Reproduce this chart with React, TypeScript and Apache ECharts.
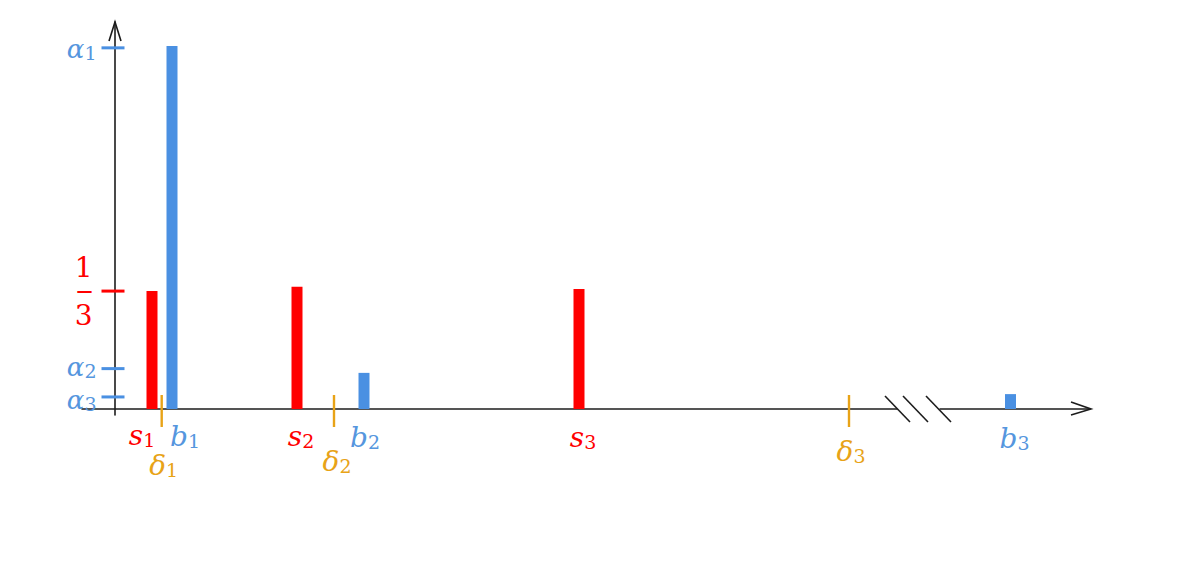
import React, { useEffect, useRef } from 'react';
import * as echarts from 'echarts';

// ---- data ----
const barNames = ['s1', 'b1', 's2', 'b2', 's3', 'b3'];
const barPositions = [3.7, 5.7, 18.2, 24.9, 46.4, 89.55];
const barHeights = [0.333, 1.025, 0.345, 0.102, 0.339, 0.042];
const deltaNames = ['δ1', 'δ2', 'δ3'];
const deltaPositions = [4.67, 21.9, 73.4];
const yTickNames = ['α1', '1/3', 'α2', 'α3'];
const yTickValues = [1.02, 0.333, 0.114, 0.034];
const xRange = [-3.3, 97.5];
const yRange = [-0.017, 1.093];
const breakPosition = 80.3;

// ---- style ----
const RED = '#ff0000';
const BLUE = '#4a90e2';
const BLUE_TEXT = '#5596de';
const ORANGE = '#e8a317';
const AXIS = '#1c1c1c';
const FONT = '"DejaVu Serif", "Liberation Serif", serif';

const labelOffsets: Record<string, [number, number]> = {
  s1: [-10, 27],
  b1: [13, 28],
  s2: [4, 28],
  b2: [1, 29],
  s3: [4, 29],
  b3: [4, 30],
  'δ1': [2, 57],
  'δ2': [3, 53],
  'δ3': [2, 43],
};
const yLabelOffsets: Record<string, [number, number]> = {
  'α1': [0, 1],
  '1/3': [0, 0],
  'α2': [0, -2],
  'α3': [0, 3],
};

const colorOf = (name: string) =>
  name.startsWith('s') ? 'R' : name.startsWith('b') ? 'B' : name.startsWith('α') ? 'Y' : 'O';

const richFor = (key: string, color: string, size = 28) => ({
  ['m' + key]: { fontFamily: FONT, fontStyle: 'italic', fontSize: size, color, lineHeight: 27 },
  ['d' + key]: { fontFamily: FONT, fontSize: 19, color, verticalAlign: 'bottom', lineHeight: 20 },
});

const rich: any = {
  ...richFor('R', RED),
  ...richFor('B', BLUE_TEXT),
  ...richFor('Y', BLUE_TEXT, 26),
  ...richFor('O', ORANGE),
  n: { fontFamily: FONT, fontSize: 28, color: RED, lineHeight: 22 },
  f: { fontFamily: FONT, fontSize: 16, color: RED, lineHeight: 26, fontWeight: 'bold' },
};

const fmtName = (name: string) => {
  if (name === '1/3') return '{n|1}\n{f|—}\n{n|3}';
  const k = colorOf(name);
  return `{m${k}|${name.slice(0, 1)}}{d${k}|${name.slice(1)}}`;
};

export default function App() {
  const ref = useRef<HTMLDivElement>(null);
  useEffect(() => {
    if (!ref.current) return;
    const chart = echarts.init(ref.current, undefined, { renderer: 'svg' });

    const barData = barNames.map((n, i) => ({
      name: n,
      value: [barPositions[i], barHeights[i]],
      itemStyle: { color: n.startsWith('s') ? RED : BLUE },
    }));
    const deltaData = deltaNames.map((n, i) => ({ name: n, value: [deltaPositions[i], 0] }));
    const yTickData = yTickNames.map((n, i) => ({
      name: n,
      value: [0, yTickValues[i]],
      itemStyle: { color: n === '1/3' ? RED : BLUE, opacity: 1 },
      label: { offset: yLabelOffsets[n], distance: n === '1/3' ? 9 : 5 },
    }));
    const labelData = [
      ...barNames.map((n, i) => ({ name: n, x: barPositions[i] })),
      ...deltaNames.map((n, i) => ({ name: n, x: deltaPositions[i] })),
    ].map((d) => ({
      name: d.name,
      value: [d.x, 0],
      label: { offset: labelOffsets[d.name] },
    }));

    chart.setOption({
      animation: false,
      grid: { left: 82, width: 1008, top: 22, height: 393 },
      xAxis: {
        type: 'value',
        min: xRange[0],
        max: xRange[1],
        axisLine: { show: true, onZero: true, lineStyle: { color: AXIS, width: 1.6 } },
        axisTick: { show: false },
        axisLabel: { show: false },
        splitLine: { show: false },
      },
      yAxis: {
        type: 'value',
        min: yRange[0],
        max: yRange[1],
        axisLine: { show: true, onZero: true, lineStyle: { color: AXIS, width: 1.6 } },
        axisTick: { show: false },
        axisLabel: { show: false },
        splitLine: { show: false },
      },
      series: [
        {
          type: 'bar',
          barWidth: 11,
          data: barData,
          z: 2,
        },
        {
          type: 'scatter',
          symbol: 'rect',
          symbolSize: [2.4, 32],
          symbolOffset: [0, 2],
          itemStyle: { color: ORANGE, opacity: 1 },
          data: deltaData,
          z: 4,
        },
        {
          type: 'scatter',
          symbol: 'rect',
          symbolSize: [23, 3],
          symbolOffset: [-2, 0],
          data: yTickData,
          z: 4,
          itemStyle: { opacity: 1 },
          label: {
            show: true,
            position: 'left',
            opacity: 1,
            formatter: (p: any) => fmtName(p.name),
            rich,
          },
        },
        {
          type: 'scatter',
          symbolSize: 1,
          itemStyle: { color: 'transparent', opacity: 1 },
          data: labelData,
          z: 5,
          label: {
            show: true,
            position: 'inside',
            opacity: 1,
            formatter: (p: any) => fmtName(p.name),
            rich,
          },
        },
      ],
    });

    const p = (x: number, y: number) =>
      chart.convertToPixel({ gridIndex: 0 } as any, [x, y]) as number[];
    const top = p(0, yRange[1]);
    const end = p(xRange[1], 0);
    const br = p(breakPosition, 0);
    const lineStyle = { stroke: AXIS, lineWidth: 1.6, fill: null };
    chart.setOption({
      graphic: [
        {
          type: 'polyline',
          z: 100,
          shape: { points: [[top[0] - 6, top[1] + 19], [top[0], top[1]], [top[0] + 6, top[1] + 19]] },
          style: lineStyle,
        },
        {
          type: 'polyline',
          z: 100,
          shape: { points: [[end[0] - 19, end[1] - 7], [end[0] + 1, end[1]], [end[0] - 19, end[1] + 6]] },
          style: lineStyle,
        },
        {
          type: 'rect',
          z: 100,
          shape: { x: br[0] - 20.5, y: br[1] - 4, width: 42, height: 8 },
          style: { fill: '#ffffff' },
        },
        ...[-33, -15, 8].map((dx) => ({
          type: 'line',
          z: 101,
          shape: { x1: br[0] + dx, y1: br[1] - 13, x2: br[0] + dx + 25, y2: br[1] + 13 },
          style: { stroke: AXIS, lineWidth: 1.6 },
        })),
      ],
    });

    return () => chart.dispose();
  }, []);
  return (
    <div
      ref={ref}
      style={{ position: 'fixed', left: 0, top: 0, width: 1199, height: 584, background: '#fff' }}
    />
  );
}
